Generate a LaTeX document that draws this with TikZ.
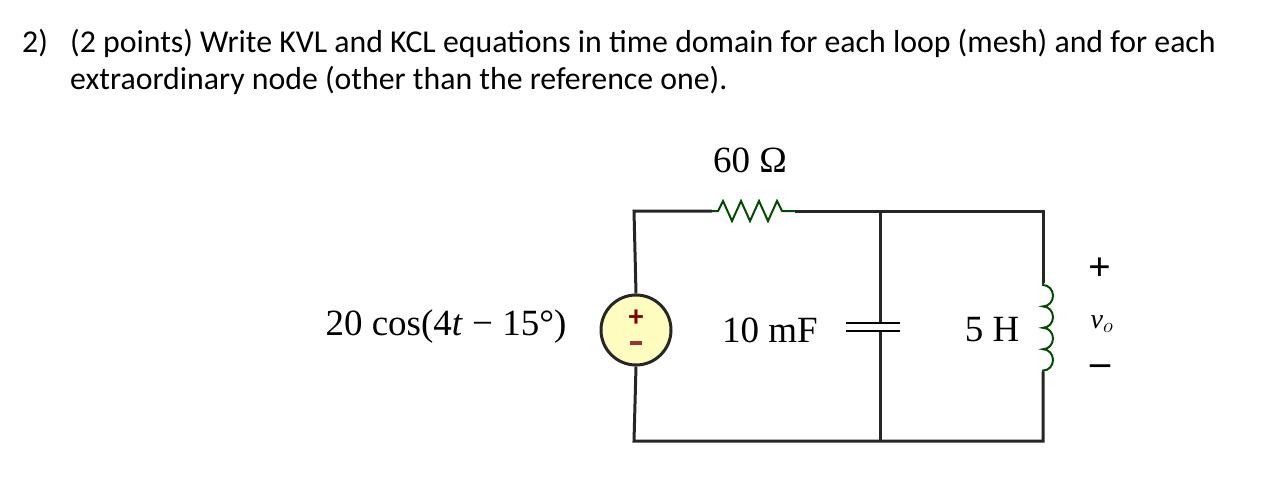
\documentclass[tikz,border=0pt]{standalone}
\usepackage{fontspec}
\setmainfont{Carlito}
\newfontfamily\circfont{Liberation Serif}
\begin{document}
\begin{tikzpicture}[x=1pt,y=-1pt,
  wire/.style={line width=3pt,black!85},
  lbl/.style={font=\circfont\fontsize{37}{40}\selectfont,inner sep=0},
  ttl/.style={font=\fontsize{31.8}{36}\selectfont,anchor=base west,inner sep=0}]
\useasboundingbox (0,0) rectangle (1282,480);
\node[ttl] (n) at (22,52) {2)};
\node[ttl] (t1) at (70,52) {(2 points) Write KVL and KCL equations in time domain for each loop (mesh) and for each};
\node[ttl] (t2) at (70,89) {extraordinary node (other than the reference one).};
\coordinate (tl) at (634,211); \coordinate (bl) at (634,441);
\coordinate (tm) at (880,211); \coordinate (bm) at (880,441);
\coordinate (tr) at (1043,211); \coordinate (br) at (1043,441);
\coordinate (r1) at (712,211); \coordinate (r2) at (795,211);
\node[circle,draw=black!85,line width=3pt,fill=yellow!25,minimum size=70pt,inner sep=0] (src) at (636,330) {};
\node[font=\bfseries\fontsize{30}{30}\selectfont,text=red!50!black,inner sep=0] (sp) at (636,318) {+};
\draw[line width=3.5pt,red!50!black!80] (630,343) -- (642,343);
\coordinate (c1) at (880,323); \coordinate (c2) at (880,331);
\coordinate (l1) at (1043,283); \coordinate (l2) at (1043,372);
\draw[wire] (src.north) -- (tl) -- (r1);
\draw[line width=2pt,black!70!green] (r1) -- ++(6,0) -- ++(5,-10) -- ++(9,20) -- ++(9,-20) -- ++(9,20) -- ++(9,-20) -- ++(9,20) -- ++(9,-20) -- ++(5,10) -- (r2);
\draw[wire] (r2) -- (tr) -- (l1);
\draw[wire] (tm) -- (c1); \draw[wire] (c2) -- (bm);
\draw[line width=2.5pt] ([xshift=-34]c1) -- ([xshift=20]c1);
\draw[line width=2.5pt] ([xshift=-34]c2) -- ([xshift=20]c2);
\draw[line width=2pt,black!70!green] (l1) -- ++(0,2)
  arc[start angle=-90,end angle=90,x radius=10,y radius=10.7]
  arc[start angle=-90,end angle=90,x radius=10,y radius=10.7]
  arc[start angle=-90,end angle=90,x radius=10,y radius=10.7]
  arc[start angle=-90,end angle=90,x radius=10,y radius=10.7] -- (l2);
\draw[wire] (l2) -- (br) -- (bl) -- (src.south);
\node[lbl] (R) at (750,160) {60 Ω};
\node[lbl] (C) at (770,330) {10 mF};
\node[lbl] (L) at (992,330) {5 H};
\node[lbl] (V) at (446,327) {20 cos(4\textit{t} − 15°)};
\node[font=\circfont\bfseries\fontsize{40}{40}\selectfont] (vp) at (1100,269) {+};
\node[font=\circfont\bfseries\fontsize{40}{40}\selectfont] (vm) at (1100,370) {–};
\node[font=\circfont\itshape\fontsize{28}{28}\selectfont] (vo) at (1102,324) {v$_o$};
\end{tikzpicture}
\end{document}
